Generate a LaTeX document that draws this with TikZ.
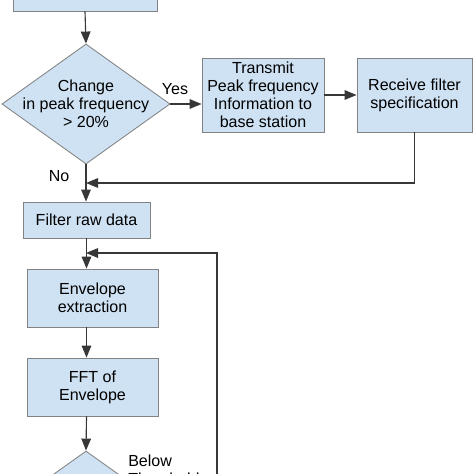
\documentclass[tikz,border=0pt]{standalone}
\usepackage{fontspec}
\setmainfont{Liberation Sans}
\usetikzlibrary{positioning}
\usetikzlibrary{calc}
\usetikzlibrary{shapes.geometric}
\usetikzlibrary{arrows.meta}
\definecolor{boxblue}{RGB}{207,226,243}
\definecolor{boxline}{RGB}{130,130,130}
\definecolor{linegray}{RGB}{55,55,55}

\begin{document}
\begin{tikzpicture}[x=0.025cm, y=-0.025cm,
    every node/.style={font=\fontsize{11.4}{12.8}\selectfont},
    box/.style={draw=boxline, fill=boxblue, line width=0.6pt, align=center, inner sep=0pt},
    decision/.style={draw=boxline, fill=boxblue, line width=0.6pt, diamond, inner sep=0pt, minimum width=4.2cm, minimum height=3cm},
    arr/.style={draw=linegray, line width=0.8pt, -{Triangle[length=0.3cm, width=0.24cm]}}]
    \useasboundingbox (0,0) rectangle (474,474);
    \clip (0,0) rectangle (474,474);

    \node[box, minimum width=3.6cm, minimum height=1.05cm] (peak) at (85,-10) {};
    \node[decision] (chg) at (86,104) {};
    \node[align=center] (chgtxt) at (chg) {Change\\in peak frequency\\> 20\%};
    \node[box, minimum width=3.05cm, minimum height=1.85cm] (trans) at (263,95) {Transmit\\Peak frequency\\Information to\\base station};
    \node[box, minimum width=2.875cm, minimum height=1.85cm] (recv) at (414.5,95) {Receive filter\\specification};
    \node[box, minimum width=3.175cm, minimum height=0.9cm] (filt) at (86.5,220) {Filter raw data};
    \node[box, minimum width=3.275cm, minimum height=1.45cm] (env) at (92.5,298) {Envelope\\extraction};
    \node[box, minimum width=3.275cm, minimum height=1.45cm] (fft) at (92.5,387) {FFT of\\Envelope};
    \node[decision] (thr) at (86,511) {};

    \node (yes) at (175,89) {Yes};
    \node (no) at (59,176) {No};
    \node[align=left, anchor=north west, inner sep=0pt] (below) at (128,455) {Below\\Threshold};

    \coordinate (join1) at (86,183);
    \coordinate (join2) at (86,253);
    \coordinate (loop) at (217,480);

    \draw[arr] (peak.south) -- (chg.north);
    \draw[arr] (chg.east) -- (chg.east -| trans.west);
    \draw[arr] (trans.east) -- (recv.west);
    \draw[arr] (recv.south) |- (join1);
    \draw[arr] (chg.south) -- (chg.south |- filt.north);
    \draw[arr] (filt.south) -- (filt.south |- env.north);
    \draw[arr] (loop) |- (join2);
    \draw[arr] (filt.south |- env.south) -- (filt.south |- fft.north);
    \draw[arr] (filt.south |- fft.south) -- (thr.north);
\end{tikzpicture}
\end{document}
